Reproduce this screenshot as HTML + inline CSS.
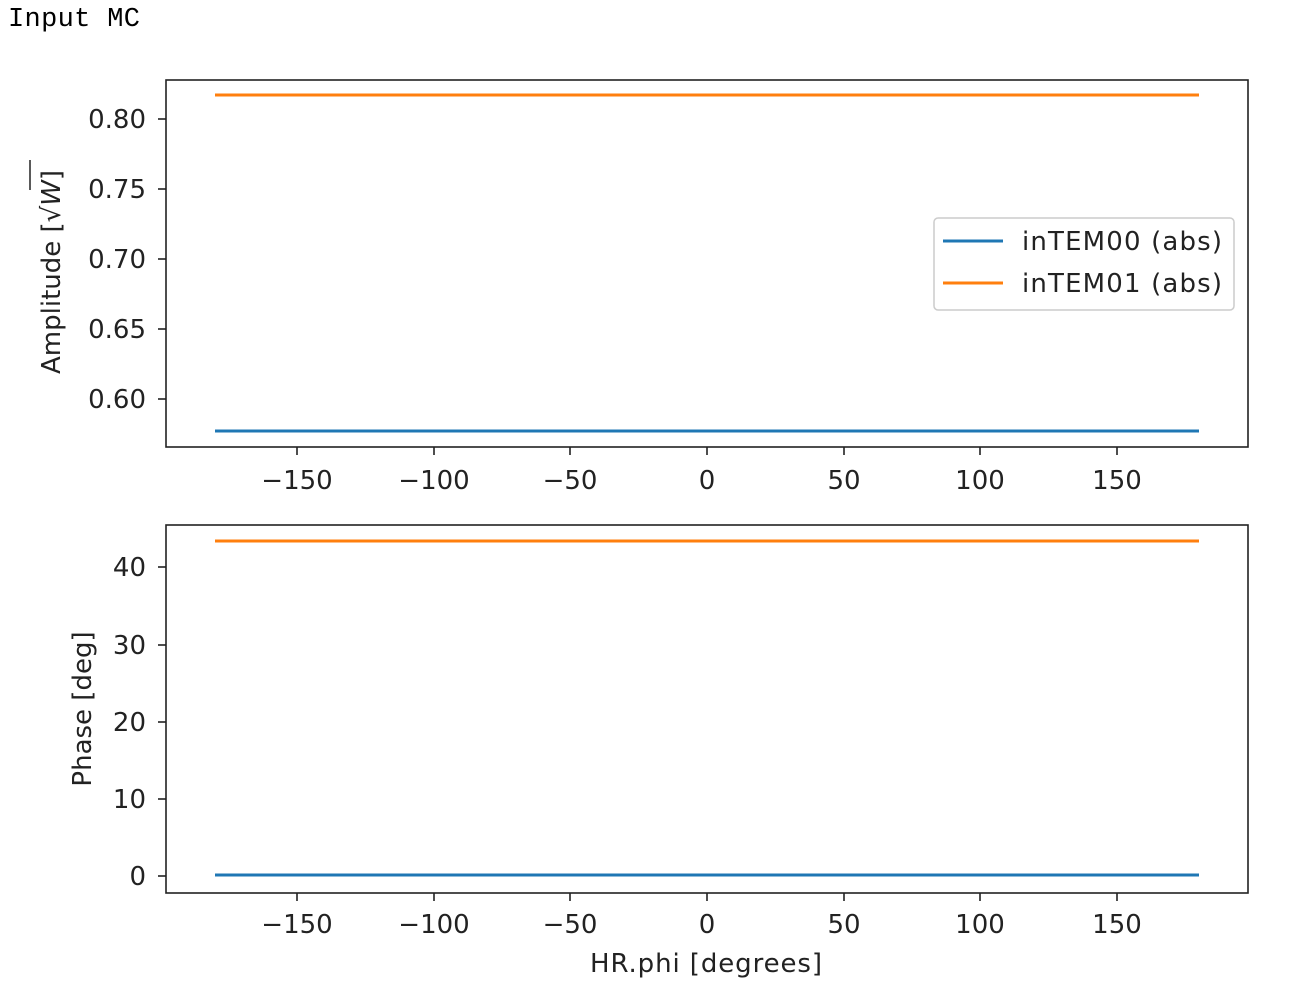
<!DOCTYPE html>
<html><head><style>
body{margin:0;background:#fff;width:1308px;height:998px;overflow:hidden}
text{font-family:"DejaVu Sans","Liberation Sans",sans-serif;font-size:26px;fill:#222}
</style></head><body>
<svg width="1308" height="998" xmlns="http://www.w3.org/2000/svg">
<text x="8" y="26" style="font-family:'Liberation Mono',monospace;font-size:27px;fill:#000" textLength="132">Input MC</text>
<g stroke="#222" stroke-width="1.6" fill="none">
<rect x="166" y="80" width="1082" height="367"/>
<rect x="166" y="525" width="1082" height="368"/>
</g>
<g stroke="#222" stroke-width="1.6">
<line x1="297" y1="447" x2="297" y2="455"/><line x1="434" y1="447" x2="434" y2="455"/><line x1="570" y1="447" x2="570" y2="455"/><line x1="707" y1="447" x2="707" y2="455"/><line x1="844" y1="447" x2="844" y2="455"/><line x1="980" y1="447" x2="980" y2="455"/><line x1="1117" y1="447" x2="1117" y2="455"/>
<line x1="297" y1="893" x2="297" y2="901"/><line x1="434" y1="893" x2="434" y2="901"/><line x1="570" y1="893" x2="570" y2="901"/><line x1="707" y1="893" x2="707" y2="901"/><line x1="844" y1="893" x2="844" y2="901"/><line x1="980" y1="893" x2="980" y2="901"/><line x1="1117" y1="893" x2="1117" y2="901"/>
<line x1="158" y1="119" x2="166" y2="119"/><line x1="158" y1="189" x2="166" y2="189"/><line x1="158" y1="259" x2="166" y2="259"/><line x1="158" y1="329" x2="166" y2="329"/><line x1="158" y1="399" x2="166" y2="399"/>
<line x1="158" y1="567" x2="166" y2="567"/><line x1="158" y1="645" x2="166" y2="645"/><line x1="158" y1="722" x2="166" y2="722"/><line x1="158" y1="799" x2="166" y2="799"/><line x1="158" y1="876" x2="166" y2="876"/>
</g>
<g text-anchor="middle">
<text x="297" y="489">−150</text><text x="434" y="489">−100</text><text x="570" y="489">−50</text><text x="707" y="489">0</text><text x="844" y="489">50</text><text x="980" y="489">100</text><text x="1117" y="489">150</text>
<text x="297" y="933">−150</text><text x="434" y="933">−100</text><text x="570" y="933">−50</text><text x="707" y="933">0</text><text x="844" y="933">50</text><text x="980" y="933">100</text><text x="1117" y="933">150</text>
<text x="706" y="972" textLength="232">HR.phi [degrees]</text>
</g>
<g text-anchor="end">
<text x="146" y="128">0.80</text><text x="146" y="198">0.75</text><text x="146" y="268">0.70</text><text x="146" y="338">0.65</text><text x="146" y="408">0.60</text>
<text x="146" y="576">40</text><text x="146" y="654">30</text><text x="146" y="731">20</text><text x="146" y="808">10</text><text x="146" y="885">0</text>
</g>
<text transform="translate(60,374) rotate(-90)">Amplitude [√<tspan font-style="italic">W</tspan>]</text>
<line x1="30" y1="160" x2="30" y2="190" stroke="#222" stroke-width="1.5"/>
<text transform="translate(91,709) rotate(-90)" text-anchor="middle">Phase [deg]</text>
<g stroke-width="3">
<line x1="215" y1="95" x2="1199" y2="95" stroke="#ff7f0e"/>
<line x1="215" y1="431" x2="1199" y2="431" stroke="#1f77b4"/>
<line x1="215" y1="541" x2="1199" y2="541" stroke="#ff7f0e"/>
<line x1="215" y1="875" x2="1199" y2="875" stroke="#1f77b4"/>
</g>
<rect x="934" y="218" width="300" height="92" rx="4" fill="#fff" stroke="#ccc" stroke-width="1.5"/>
<line x1="943" y1="241" x2="1003" y2="241" stroke="#1f77b4" stroke-width="3"/>
<line x1="943" y1="283" x2="1003" y2="283" stroke="#ff7f0e" stroke-width="3"/>
<text x="1022" y="250" textLength="200">inTEM00 (abs)</text>
<text x="1022" y="292" textLength="200">inTEM01 (abs)</text>
</svg>
</body></html>
